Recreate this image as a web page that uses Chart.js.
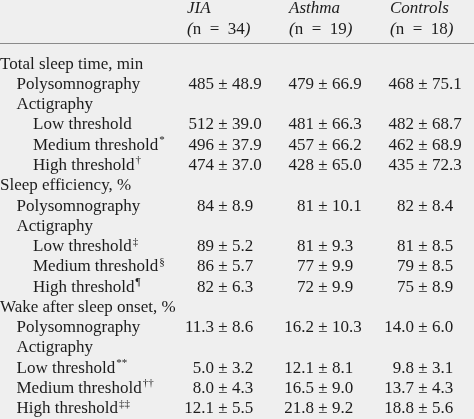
<!DOCTYPE html>
<html><head><meta charset="utf-8">
<script src="https://cdn.jsdelivr.net/npm/chart.js@4/dist/chart.umd.min.js"></script>
<style>html,body{margin:0;padding:0;background:#efefef;}#w{width:474px;height:419px;position:relative}</style>
</head><body><div id="w"><canvas id="c"></canvas></div>
<script>
const groups = ["JIA", "Asthma", "Controls"];
const groupN = ["(n = 34)", "(n = 19)", "(n = 18)"];
const rowLabels = ["Total sleep time, min","Polysomnography","Actigraphy","Low threshold","Medium threshold","High threshold",
 "Sleep efficiency, %","Polysomnography","Actigraphy","Low threshold","Medium threshold","High threshold",
 "Wake after sleep onset, %","Polysomnography","Actigraphy","Low threshold","Medium threshold","High threshold"];
const rowSup = ["","","","","*","†","","","","‡","§","¶","","","","**","††","‡‡"];
const rowIndent = [0,1,1,2,2,2,0,1,1,2,2,2,0,1,1,1,1,1];
const jiaMean = [null,"485",null,"512","496","474",null,"84",null,"89","86","82",null,"11.3",null,"5.0","8.0","12.1"];
const jiaSD   = [null,"48.9",null,"39.0","37.9","37.0",null,"8.9",null,"5.2","5.7","6.3",null,"8.6",null,"3.2","4.3","5.5"];
const asthmaMean = [null,"479",null,"481","457","428",null,"81",null,"81","77","72",null,"16.2",null,"12.1","16.5","21.8"];
const asthmaSD   = [null,"66.9",null,"66.3","66.2","65.0",null,"10.1",null,"9.3","9.9","9.9",null,"10.3",null,"8.1","9.0","9.2"];
const ctrlMean = [null,"468",null,"482","462","435",null,"82",null,"81","79","75",null,"14.0",null,"9.8","13.7","18.8"];
const ctrlSD   = [null,"75.1",null,"68.7","68.9","72.3",null,"8.4",null,"8.5","8.5","8.9",null,"6.0",null,"3.1","4.3","5.6"];
const means = [jiaMean, asthmaMean, ctrlMean];
const sds = [jiaSD, asthmaSD, ctrlSD];

const pmX = [223, 323, 423];   // column (x-value) for ± of each group
const FONT = '"Liberation Serif","DejaVu Serif",serif';

const tablePlugin = {
  id:'table',
  afterDraw(chart){
    const ctx = chart.ctx, xs = chart.scales.x, ys = chart.scales.y;
    ctx.save();
    ctx.fillStyle = '#1c1c1c';
    ctx.textBaseline = 'middle';
    // header
    ctx.font = 'italic 17px ' + FONT;
    ctx.textAlign = 'left';
    const hx = [187, 289, 390];
    groups.forEach((g,i)=>{ ctx.fillText(g, xs.getPixelForValue(hx[i]), 9); });
    groups.forEach((g,i)=>{
      const x = xs.getPixelForValue(hx[i]);
      ctx.font = 'italic 17px ' + FONT; ctx.fillText('(', x, 30);
      const w = ctx.measureText('(').width;
      ctx.font = '17px ' + FONT; const t = groupN[i].slice(1,-1).replace(/ = /,'  =  ');
      ctx.fillText(t, x+w, 30);
      const w2 = ctx.measureText(t).width;
      ctx.font = 'italic 17px ' + FONT; ctx.fillText(')', x+w+w2, 30);
    });
    ctx.strokeStyle = '#8a8a8a'; ctx.lineWidth = 1;
    ctx.beginPath(); ctx.moveTo(0, 43.5); ctx.lineTo(chart.width, 43.5); ctx.stroke();
    // rows
    rowLabels.forEach((lab,r)=>{
      const y = ys.getPixelForValue(r);
      ctx.font = '17px ' + FONT; ctx.textAlign = 'left';
      const x0 = xs.getPixelForValue(rowIndent[r]*16.5);
      ctx.fillText(lab, x0, y);
      if (rowSup[r]) {
        const w = ctx.measureText(lab).width;
        ctx.font = '11px ' + FONT; ctx.fillText(rowSup[r], x0+w+1, y-5);
      }
      ctx.font = '17px ' + FONT;
      for (let g=0; g<3; g++){
        if (means[g][r]==null) continue;
        const px = xs.getPixelForValue(pmX[g]);
        ctx.textAlign='center'; ctx.fillText('±', px, y);
        ctx.textAlign='right'; ctx.fillText(means[g][r], px-9, y);
        ctx.textAlign='left'; ctx.fillText(sds[g][r], px+9, y);
      }
    });
    ctx.restore();
  }
};

new Chart(document.getElementById('c'), {
  type:'scatter',
  data:{ labels: rowLabels, datasets:[{ data: [], pointRadius:0 }]},
  options:{
    responsive:true, maintainAspectRatio:false, animation:false,
    layout:{ padding:{ top:54, bottom:0, left:0, right:0 } },
    plugins:{ legend:{display:false}, tooltip:{enabled:false} },
    scales:{
      x:{ type:'linear', min:0, max:474, display:false },
      y:{ type:'category', labels: rowLabels, offset:true, display:false }
    }
  },
  plugins:[tablePlugin]
});
</script></body></html>
